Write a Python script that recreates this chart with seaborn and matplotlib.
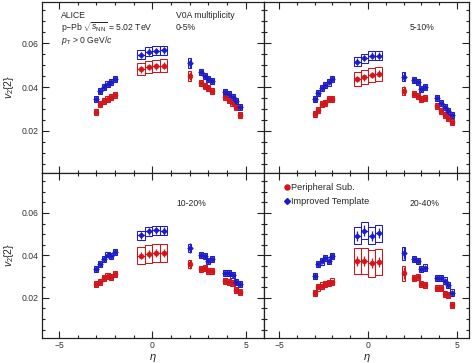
import numpy as np
import pandas as pd
import seaborn as sns
import matplotlib
matplotlib.use("Agg")
import matplotlib.pyplot as plt
from matplotlib.patches import Rectangle
from matplotlib.lines import Line2D
from matplotlib.ticker import MultipleLocator

# ---------------- data ----------------
eta = [-3.0, -2.8, -2.6, -2.4, -2.2, -2.0,
       -0.6, -0.2, 0.2, 0.6,
       2.0,
       2.6, 2.8, 3.0, 3.2,
       3.9, 4.1, 4.3, 4.5, 4.7]
# group of each point: 0 = FMD, 1 = TPC, 2 = single eta=2 point
group = [0, 0, 0, 0, 0, 0, 1, 1, 1, 1, 2, 0, 0, 0, 0, 0, 0, 0, 0, 0]
half_width = [0.11, 0.2, 0.07]  # box half width per group

centralities = ["0-5%", "5-10%", "10-20%", "20-40%"]

ps_0_5 = [0.0288, 0.0322, 0.0337, 0.0346, 0.0356, 0.0364,
          0.0481, 0.0492, 0.0495, 0.0498, 0.0451,
          0.0418, 0.0405, 0.0395, 0.0384,
          0.0356, 0.0341, 0.0326, 0.0308, 0.0274]
it_0_5 = [0.0345, 0.0384, 0.0400, 0.0414, 0.0425, 0.0436,
          0.0547, 0.0562, 0.0565, 0.0567, 0.0509,
          0.0470, 0.0451, 0.0437, 0.0429,
          0.0378, 0.0367, 0.0356, 0.0338, 0.0311]
ps_5_10 = [0.0278, 0.0296, 0.0324, 0.0329, 0.0345, 0.0345,
           0.0436, 0.0445, 0.0455, 0.0461, 0.0384,
           0.0367, 0.0361, 0.0346, 0.0352,
           0.0314, 0.0293, 0.0273, 0.0258, 0.0242]
it_5_10 = [0.0345, 0.0374, 0.0397, 0.0409, 0.0421, 0.0436,
           0.0516, 0.0532, 0.0543, 0.0543, 0.0448,
           0.0433, 0.0425, 0.0390, 0.0402,
           0.0349, 0.0326, 0.0311, 0.0291, 0.0273]
ps_10_20 = [0.0265, 0.0276, 0.0292, 0.0304, 0.0300, 0.0312,
            0.0399, 0.0406, 0.0412, 0.0412, 0.0358,
            0.0335, 0.0342, 0.0327, 0.0327,
            0.0279, 0.0276, 0.0268, 0.0236, 0.0228]
it_10_20 = [0.0335, 0.0360, 0.0383, 0.0404, 0.0395, 0.0418,
            0.0494, 0.0513, 0.0518, 0.0516, 0.0434,
            0.0402, 0.0398, 0.0374, 0.0382,
            0.0316, 0.0316, 0.0308, 0.0276, 0.0265]
ps_20_40 = [0.0221, 0.0249, 0.0257, 0.0265, 0.0271, 0.0276,
            0.0374, 0.0374, 0.0363, 0.0369, 0.0316,
            0.0292, 0.0297, 0.0265, 0.0260,
            0.0247, 0.0245, 0.0218, 0.0213, 0.0165]
it_20_40 = [0.0303, 0.0358, 0.0371, 0.0387, 0.0375, 0.0398,
            0.0492, 0.0516, 0.0492, 0.0505, 0.0410,
            0.0382, 0.0374, 0.0335, 0.0342,
            0.0292, 0.0292, 0.0281, 0.0260, 0.0224]

# systematic half-heights per group (FMD, TPC, eta=2)
sys_ps = [[0.0014, 0.0028, 0.0022], [0.0014, 0.0032, 0.0018],
          [0.0014, 0.0042, 0.0020], [0.0015, 0.0063, 0.0036]]
sys_it = [[0.0014, 0.0020, 0.0022], [0.0014, 0.0021, 0.0020],
          [0.0014, 0.0021, 0.0020], [0.0015, 0.0040, 0.0030]]
# statistical errors per group
stat = [[0.0004, 0.0015, 0.0020], [0.0004, 0.0015, 0.0020],
        [0.0005, 0.0018, 0.0022], [0.0006, 0.0025, 0.0028]]

ps_all = [ps_0_5, ps_5_10, ps_10_20, ps_20_40]
it_all = [it_0_5, it_5_10, it_10_20, it_20_40]

RED = "#d0151b"
BLUE = "#1c1cc8"

# ---------------- style ----------------
sns.set_theme(style="ticks")
plt.rcParams["font.family"] = ["Liberation Sans", "DejaVu Sans"]
plt.rcParams["mathtext.fontset"] = "custom"
plt.rcParams["mathtext.rm"] = "Liberation Sans"
plt.rcParams["mathtext.it"] = "Liberation Sans:italic"
plt.rcParams["mathtext.bf"] = "Liberation Sans:bold"

fig = plt.figure(figsize=(4.74, 3.63), dpi=100)
W, H = 474.0, 363.0
# pixel boxes (x0, x1, ytop, ybottom)
boxes = [(41.7, 263.5, 1.5, 172.7), (263.5, 469.3, 1.5, 172.7),
         (41.7, 263.5, 172.7, 338.0), (263.5, 469.3, 172.7, 338.0)]
xlims = [(-5.93, 5.96), (-5.87, 5.69), (-5.93, 5.96), (-5.87, 5.69)]

eta_a = np.array(eta)
grp = np.array(group)
hw = np.array(half_width)[grp]

axes = []
for i, (x0, x1, yt, yb) in enumerate(boxes):
    ax = fig.add_axes([x0 / W, 1 - yb / H, (x1 - x0) / W, (yb - yt) / H])
    axes.append(ax)
    ax.set_xlim(*xlims[i])
    ax.set_ylim(0.001, 0.079)

    for vals, sysg, col, mk, ms in [(ps_all[i], sys_ps[i], RED, "o", 12),
                                     (it_all[i], sys_it[i], BLUE, "D", 8)]:
        v = np.array(vals)
        sy = np.array(sysg)[grp]
        st = np.array(stat[i])[grp]
        for xx, yy, w, h in zip(eta_a, v, hw, sy):
            ax.add_patch(Rectangle((xx - w, yy - h), 2 * w, 2 * h, fill=False,
                                   edgecolor=col, lw=0.75, zorder=2))
        ax.errorbar(eta_a, v, xerr=hw, yerr=st, fmt="none", ecolor=col,
                    elinewidth=0.9, capsize=0, zorder=3)
        df = pd.DataFrame({"eta": eta_a, "v2": v})
        sns.scatterplot(data=df, x="eta", y="v2", ax=ax, marker=mk, s=ms,
                        color=col, edgecolor=col, linewidth=0.5, zorder=4,
                        legend=False)

    ax.xaxis.set_major_locator(MultipleLocator(5))
    ax.xaxis.set_minor_locator(MultipleLocator(1))
    ax.yaxis.set_major_locator(MultipleLocator(0.02))
    ax.yaxis.set_minor_locator(MultipleLocator(0.005))
    ax.tick_params(which="both", direction="in", top=True, right=True,
                   bottom=True, left=True, width=0.8, colors="#222222")
    ax.tick_params(which="major", length=5)
    ax.tick_params(which="minor", length=2.5)
    ax.tick_params(axis="both", labelsize=6.2, pad=2, labelcolor="#333333")
    for s in ax.spines.values():
        s.set_linewidth(0.9)
        s.set_color("#222222")
    ax.set_xlabel("")
    ax.set_ylabel("")
    if i in (1, 3):
        ax.tick_params(labelleft=False)
    if i in (0, 1):
        ax.tick_params(labelbottom=False)
    if i in (0, 2):
        ax.set_yticks([0.02, 0.04, 0.06])
        ax.set_yticklabels(["0.02", "0.04", "0.06"])
        ax.set_ylabel(r"$v_{2}\{2\}$", fontsize=7.5, color="#222222")
        ax.yaxis.set_label_coords(-0.115, 0.5)
    if i in (2, 3):
        ax.set_xticks([-5, 0, 5])
        ax.set_xticklabels(["\u22125", "0", "5"])
        ax.set_xlabel("\u03b7", fontsize=8, fontstyle="italic", color="#222222")
        ax.xaxis.set_label_coords(0.5, -0.085)

fs = 6.2
a0 = axes[0]
a0.text(0.0857, 0.921, "ALICE", transform=a0.transAxes, fontsize=fs, va="center")
a0.text(0.0857, 0.847, r"p$-$Pb $\sqrt{s_{\rm NN}}$ = 5.02 TeV",
        transform=a0.transAxes, fontsize=fs, va="center")
a0.text(0.0857, 0.775, r"$p_{\rm T}$ > 0 GeV/$c$", transform=a0.transAxes,
        fontsize=fs, va="center")
a0.text(0.6055, 0.921, "V0A multiplicity", transform=a0.transAxes, fontsize=fs,
        va="center")
a0.text(0.6055, 0.847, centralities[0], transform=a0.transAxes, fontsize=fs,
        va="center")
axes[1].text(0.710, 0.847, centralities[1], transform=axes[1].transAxes,
             fontsize=fs, va="center")
axes[2].text(0.6055, 0.815, centralities[2], transform=axes[2].transAxes,
             fontsize=fs, va="center")
axes[3].text(0.710, 0.815, centralities[3], transform=axes[3].transAxes,
             fontsize=fs, va="center")

handles = [Line2D([], [], marker="o", color=RED, ls="none", markersize=3.6),
           Line2D([], [], marker="D", color=BLUE, ls="none", markersize=3.0)]
axes[3].legend(handles, ["Peripheral Sub.", "Improved Template"],
               loc="upper left", bbox_to_anchor=(0.09, 0.95), frameon=False,
               fontsize=6.6, handlelength=0.6, handletextpad=0.15,
               labelspacing=0.55, borderaxespad=0, borderpad=0.2)

fig.savefig("out.png", dpi=100)
